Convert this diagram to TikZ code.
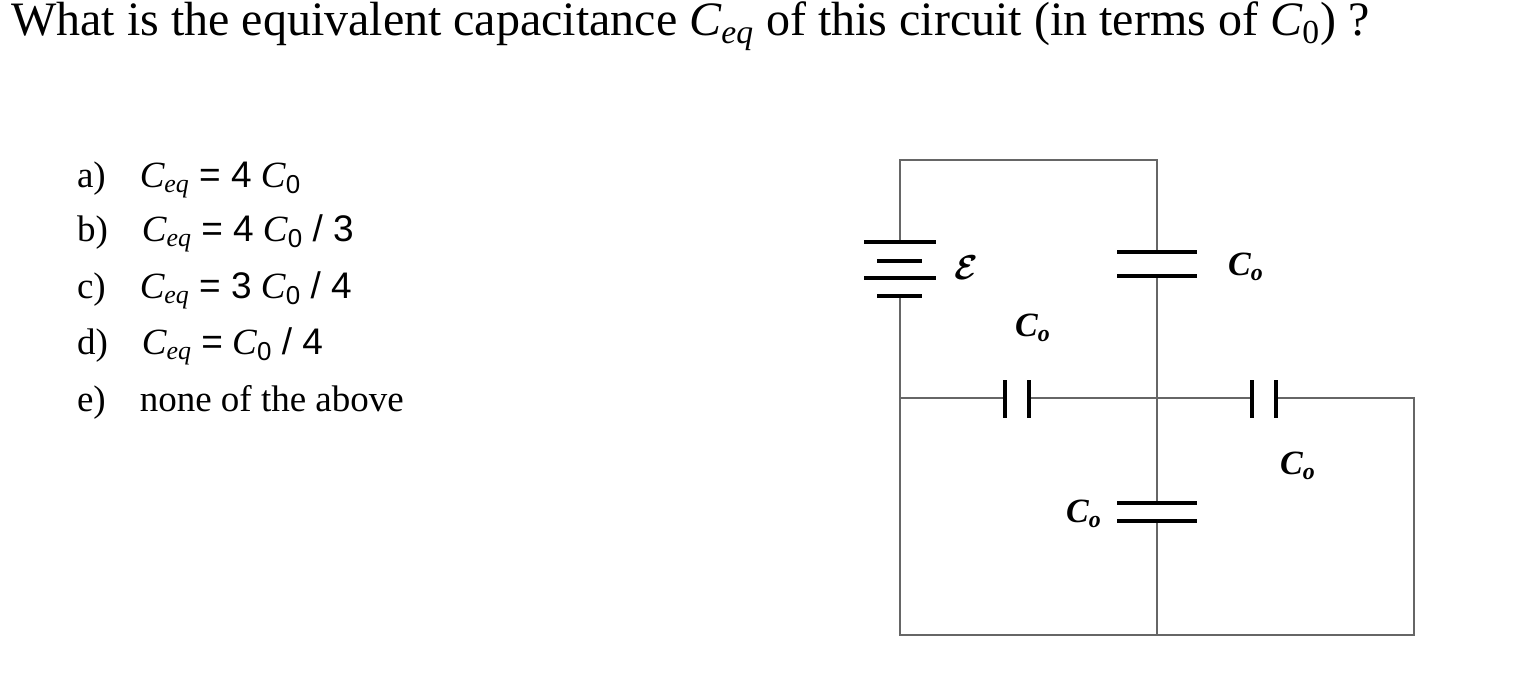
\documentclass[tikz,border=0pt]{standalone}
\usepackage{amsmath,amssymb}
\usepackage{fontspec}
\setmainfont{Liberation Serif}
\newfontfamily\arialf{Liberation Sans}
\usetikzlibrary{positioning}
\tikzstyle{wire}=[draw,gray!80!black,line width=0.9pt]
\tikzstyle{plate}=[draw,black,line width=2pt]
\tikzstyle{lbl}=[font=\fontsize{17}{17}\selectfont\bfseries\itshape]
\tikzstyle{opt}=[anchor=west,font=\fontsize{18.5}{20}\selectfont]
\newcommand{\ceqq}{\textit{C\textsubscript{eq}}}
\newcommand{\czero}{\textit{C}\textsubscript{\arialf 0}}
\begin{document}
\begin{tikzpicture}[x=0.5pt,y=-0.5pt]
  \useasboundingbox (0,0) rectangle (1536,696);
  % question
  \node [anchor=west,font=\fontsize{24}{26}\selectfont] (q) at (4,26)
    {What is the equivalent capacitance \ceqq\ of this circuit (in terms of \textit{C}\textsubscript{0}) ?};
  \node [opt] (a) at (70,180) {a)\hspace{17pt}\ceqq\ {\arialf = 4} \czero};
  \node [opt] (b) at (70,233) {b)\hspace{17pt}\ceqq\ {\arialf = 4} \czero\ {\arialf / 3}};
  \node [opt] (c) at (70,290) {c)\hspace{17pt}\ceqq\ {\arialf = 3} \czero\ {\arialf / 4}};
  \node [opt] (d) at (70,346) {d)\hspace{17pt}\ceqq\ {\arialf =} \czero\ {\arialf / 4}};
  \node [opt] (e) at (70,402) {e)\hspace{17pt}none of the above};

  % circuit corners
  \coordinate (tl) at (900,160);
  \coordinate (tm) at (1157,160);
  \coordinate (ml) at (900,398);
  \coordinate (mm) at (1157,398);
  \coordinate (mr) at (1414,398);
  \coordinate (bl) at (900,635);
  \coordinate (bm) at (1157,635);
  \coordinate (br) at (1414,635);
  % battery
  \coordinate (bt) at (900,242);
  \coordinate (bb) at (900,296);
  % capacitor ends
  \coordinate (c1t) at (1157,252);
  \coordinate (c1b) at (1157,276);
  \coordinate (c2l) at (1003,398);
  \coordinate (c2r) at (1027,398);
  \coordinate (c3l) at (1250,398);
  \coordinate (c3r) at (1274,398);
  \coordinate (c4t) at (1157,503);
  \coordinate (c4b) at (1157,521);

  \draw [wire] (bt) -- (tl) -- (tm) -- (c1t);
  \draw [wire] (c1b) -- (c4t);
  \draw [wire] (c4b) -- (bm);
  \draw [wire] (bb) -- (bl) -- (br) -- (mr) -- (c3r);
  \draw [wire] (c3l) -- (c2r);
  \draw [wire] (c2l) -- (ml);

  % battery plates
  \draw [plate] (864,242) -- (936,242);
  \draw [plate] (877,261) -- (922,261);
  \draw [plate] (864,278) -- (936,278);
  \draw [plate] (877,296) -- (922,296);
  % capacitor plates
  \draw [plate] (1117,252) -- (1197,252);
  \draw [plate] (1117,276) -- (1197,276);
  \draw [plate] (1005,380) -- (1005,418);
  \draw [plate] (1029,380) -- (1029,418);
  \draw [plate] (1252,380) -- (1252,418);
  \draw [plate] (1276,380) -- (1276,418);
  \draw [plate] (1117,503) -- (1197,503);
  \draw [plate] (1117,521) -- (1197,521);

  % labels
  \node [lbl] (le) at (966,268) {$\boldsymbol{\mathcal{E}}$};
  \node [lbl] (l1) at (1246,267) {C\textsubscript{o}};
  \node [lbl] (l2) at (1033,328) {C\textsubscript{o}};
  \node [lbl] (l3) at (1298,466) {C\textsubscript{o}};
  \node [lbl] (l4) at (1084,514) {C\textsubscript{o}};
\end{tikzpicture}
\end{document}
